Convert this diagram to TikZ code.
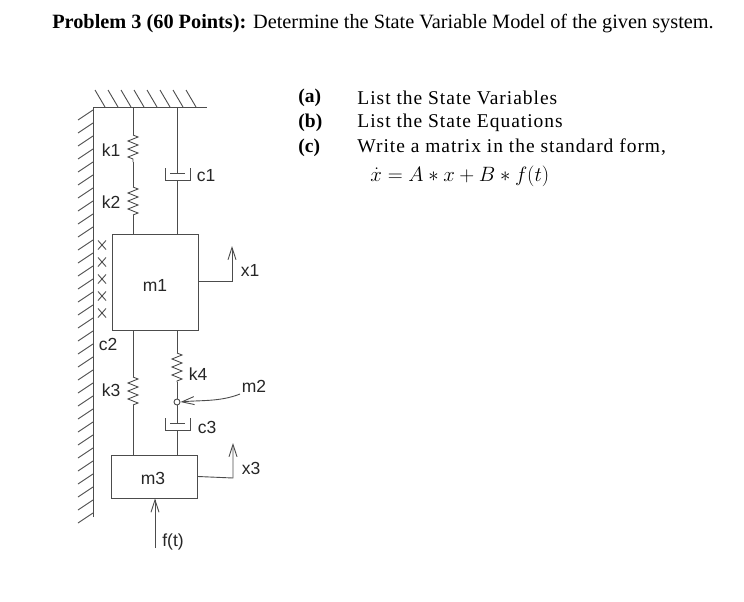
\documentclass[tikz,border=0pt]{standalone}
\usepackage{fontspec}
\setmainfont{Liberation Serif}
\newfontfamily\lab{Liberation Sans}
\newfontfamily\spaced[LetterSpace=5]{Liberation Serif}
\usetikzlibrary{decorations.pathmorphing,arrows.meta}
\begin{document}
\begin{tikzpicture}[x=1pt,y=-1pt,line width=0.9pt,draw=black!70,
  spr/.style={decorate,decoration={zigzag,segment length=8pt,amplitude=5pt}},
  lbl/.style={font=\lab\fontsize{17.5}{20}\selectfont,text=black!85,inner sep=0pt},
  massbox/.style={draw,minimum width=86pt,inner sep=0pt},
  barb/.style={-{Straight Barb[angle=36:13pt,line width=0.9pt]}},
  itm/.style={font=\spaced\fontsize{19.5}{22}\selectfont,anchor=west,inner sep=0pt}]
\useasboundingbox (0,0) rectangle (744,602);
% title
\node[inner sep=0pt,font=\fontsize{20.3}{24}\selectfont] (title) at (383,24) {\textbf{Problem 3 (60 Points):} Determine the State Variable Model of the given system.};
% list
\node[itm,font=\bfseries\fontsize{19.5}{22}\selectfont] (a) at (298,98) {(a)};
\node[itm,font=\bfseries\fontsize{19.5}{22}\selectfont] (b) at (298,123) {(b)};
\node[itm,font=\bfseries\fontsize{19.5}{22}\selectfont] (c) at (298,148) {(c)};
\node[itm] (ta) at (357,98) {List the State Variables};
\node[itm] (tb) at (357,123) {List the State Equations};
\node[itm] (tc) at (357,147) {Write a matrix in the standard form,};
\node[itm,font=\fontsize{19.5}{22}\selectfont] (eq) at (370,176) {$\dot{x} = A * x + B * f(t)$};
% walls
\coordinate (wtl) at (93,107); \coordinate (wtr) at (207,107); \coordinate (wbl) at (93,517);
\draw (wbl) -- (wtl) -- (wtr);
\foreach \x in {105,118,...,207} \draw (\x-10,90) -- (\x,107);
\foreach \y in {110,123,...,515} \draw (93,\y) -- (78,\y+10);
% masses
\node[massbox,minimum height=96pt] (m1) at (155,282) {};
\node[lbl] at (155,285) {m1};
\node[massbox,minimum height=43pt] (m3) at (154.5,476.5) {};
\node[lbl] at (153,478) {m3};
% crosses
\foreach \y in {245,262,...,315} \draw (98,\y-4.5) -- (106,\y+4.5) (98,\y+4.5) -- (106,\y-4.5);
% left column top
\coordinate (k1a) at (133,135); \coordinate (k1b) at (133,162);
\coordinate (k2a) at (133,187); \coordinate (k2b) at (133,215);
\draw (133,107) -- (k1a);
\draw[spr] (k1a) -- (k1b);
\draw (k1b) -- (k2a);
\draw[spr] (k2a) -- (k2b);
\draw (k2b) -- (133,234);
\node[lbl] at (111,150) {k1};
\node[lbl] at (111,202) {k2};
% c1
\draw (177,107) -- (177,173) (170,173) -- (185,173);
\draw (165,168) -- (165,180) -- (190,180) -- (190,168);
\draw (177,180) -- (177,234);
\node[lbl] at (206,176) {c1};
% x1
\draw[barb] (198,281) -- (232,281) -- (232,246);
\node[lbl] at (250,270) {x1};
% c2
\node[lbl] at (108,344) {c2};
% lower left: k3
\coordinate (k3a) at (133,377); \coordinate (k3b) at (133,405);
\draw (133,330) -- (k3a); \draw[spr] (k3a) -- (k3b); \draw (k3b) -- (133,455);
\node[lbl] at (111,390) {k3};
% k4, m2, c3
\coordinate (k4a) at (177,353); \coordinate (k4b) at (177,382);
\draw (177,330) -- (k4a); \draw[spr] (k4a) -- (k4b);
\node[draw,circle,inner sep=0pt,minimum size=6pt] (m2c) at (177,402) {};
\draw (k4b) -- (m2c.north);
\node[lbl] at (198,374) {k4};
\node[lbl] (m2) at (254,386) {m2};
\draw[barb] (240,394) .. controls (220,402) and (200,400) .. (m2c.east);
\draw (m2c.south) -- (177,423) (170,423) -- (185,423);
\draw (165,418) -- (165,430) -- (190,430) -- (190,418);
\draw (177,430) -- (177,455);
\node[lbl] at (207,427) {c3};
% x3
\draw[barb] (m3.east) -- (233,478) -- (233,443);
\node[lbl] at (251,468) {x3};
% f(t)
\draw[barb] (155,548) -- (m3.south -| 155,0);
\node[lbl] at (173,542) {f(t)};
\end{tikzpicture}
\end{document}
